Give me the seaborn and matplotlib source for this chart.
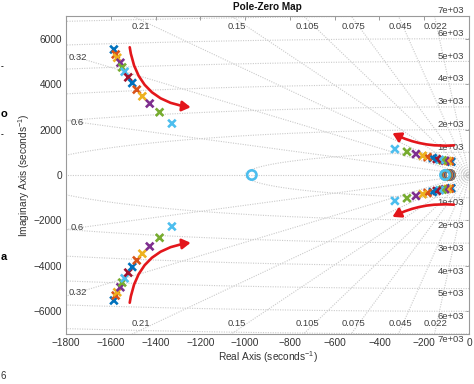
import numpy as np
import pandas as pd
import matplotlib
matplotlib.use("Agg")
import matplotlib.pyplot as plt
import seaborn as sns
from matplotlib.patches import FancyArrowPatch

# ---------------- data ----------------
system_ids = list(range(1, 14))
system_colors = ["#0072BD", "#D95319", "#EDB120", "#7E2F8E", "#77AC30", "#4DBEEE", "#A2142F",
                 "#0072BD", "#D95319", "#EDB120", "#7E2F8E", "#77AC30", "#4DBEEE"]
fast_pole_re = [-1586, -1578, -1571, -1557, -1549, -1538, -1522, -1504, -1484, -1459, -1426, -1382, -1327]
fast_pole_im = [5526, 5307, 5162, 4943, 4737, 4548, 4298, 4048, 3759, 3465, 3145, 2763, 2268]
slow_pole_re = [-79, -86, -95, -107, -118, -131, -144, -162, -185, -207, -237, -277, -331]
slow_pole_im = [583, 601, 614, 627, 645, 671, 702, 746, 789, 846, 921, 1022, 1140]
zero_re = [-85, -86, -87, -88, -90, -91, -93, -95, -97, -99, -101, -104, -107]
far_zero_re = [-970]
far_zero_system = [13]

damping_values = [0.022, 0.045, 0.075, 0.105, 0.15, 0.21, 0.32, 0.6]
top_damping_labels = ["0.022", "0.045", "0.075", "0.105", "0.15", "0.21"]
side_damping_labels = ["0.32", "0.6"]
natural_freqs = [1000, 2000, 3000, 4000, 5000, 6000, 7000]
wn_labels = ["1e+03", "2e+03", "3e+03", "4e+03", "5e+03", "6e+03", "7e+03"]

x_ticks = [-1800, -1600, -1400, -1200, -1000, -800, -600, -400, -200, 0]
y_ticks = [-6000, -4000, -2000, 0, 2000, 4000, 6000]

# trend arrows (start, end) in data units
arrow_starts = [(-1517, 5746), (-1517, -5746), (-55, 1316), (-55, -1316)]
arrow_ends = [(-1231, 2969), (-1231, -2969), (-353, 1899), (-353, -1899)]
arrow_rads = [0.4, -0.4, -0.15, 0.15]

# ---------------- frames ----------------
poles = pd.DataFrame({
    "re": fast_pole_re + fast_pole_re + slow_pole_re + slow_pole_re,
    "im": fast_pole_im + [-v for v in fast_pole_im] + slow_pole_im + [-v for v in slow_pole_im],
    "system": system_ids * 4,
})
zeros = pd.DataFrame({"re": zero_re + far_zero_re,
                      "im": [0] * (len(zero_re) + len(far_zero_re)),
                      "system": system_ids + far_zero_system})
palette = {s: c for s, c in zip(system_ids, system_colors)}

# ---------------- figure ----------------
sns.set_style("white")
plt.rcParams["font.family"] = ["Liberation Sans", "DejaVu Sans"]
plt.rcParams["mathtext.default"] = "regular"

fig = plt.figure(figsize=(4.74, 3.84), dpi=100)
ax = fig.add_axes([66 / 474, 50 / 384, 403 / 474, 318 / 384])

grid_kw = dict(color="#cacaca", linestyle=(0, (1, 1.2)), linewidth=0.8, zorder=1)
# damping rays
r = np.array([0, 20000])
for z in damping_values:
    s = np.sqrt(1 - z ** 2)
    ax.plot(-r * z, r * s, **grid_kw)
    ax.plot(-r * z, -r * s, **grid_kw)
ax.plot([-2000, 0], [0, 0], **grid_kw)
# natural-frequency circles
th = np.linspace(np.pi / 2, 3 * np.pi / 2, 600)
for wn in natural_freqs:
    ax.plot(wn * np.cos(th), wn * np.sin(th), **grid_kw)

lab_kw = dict(fontsize=6.8, color="#404040", zorder=2)
for z, t in zip(damping_values[:6], top_damping_labels):
    xl = -6830 * z / np.sqrt(1 - z ** 2)
    ax.text(xl, 6550, t, ha="center", va="center", **lab_kw)
    ax.text(xl, -6550, t, ha="center", va="center", **lab_kw)
for z, t in zip(damping_values[6:], side_damping_labels):
    yl = 1745 * np.sqrt(1 - z ** 2) / z
    ax.text(-1748, yl, t, ha="center", va="center", **lab_kw)
    ax.text(-1748, -yl, t, ha="center", va="center", **lab_kw)
for wn, t in zip(natural_freqs, wn_labels):
    ax.text(-22, wn + 230, t, ha="right", va="center", **lab_kw)
    ax.text(-22, -wn - 230, t, ha="right", va="center", **lab_kw)

# poles and zeros
sns.scatterplot(data=poles, x="re", y="im", hue="system", palette=palette, marker="x",
                s=30, linewidth=1.9, legend=False, ax=ax, zorder=4)
sns.scatterplot(data=zeros, x="re", y="im", hue="system", palette=palette, marker="o",
                s=45, facecolor="none", linewidth=1.9, legend=False, ax=ax, zorder=4)
# force hollow circles with coloured edges
coll = ax.collections[-1]
coll.set_edgecolors([palette[s] for s in zeros["system"]])
coll.set_facecolors("none")

for (a, b, rad) in zip(arrow_starts, arrow_ends, arrow_rads):
    ax.add_patch(FancyArrowPatch(a, b, connectionstyle=f"arc3,rad={rad}",
                                 arrowstyle="-|>,head_length=5,head_width=3",
                                 color="#E3161B", lw=1.9, zorder=5))

ax.set_xlim(-1800, 0)
ax.set_ylim(-7000, 7000)
ax.set_xticks(x_ticks)
ax.set_yticks(y_ticks)
ax.tick_params(direction="in", length=3, width=0.7, colors="#9a9a9a",
               labelcolor="#333333", labelsize=7.3, top=True, right=True, pad=3)
for sp in ax.spines.values():
    sp.set_color("#9a9a9a")
    sp.set_linewidth(0.8)
ax.set_xlabel("Real Axis (seconds$^{-1}$)", fontsize=7.3, color="#333333", labelpad=1)
ax.set_ylabel("Imaginary Axis (seconds$^{-1}$)", fontsize=7.3, color="#333333", labelpad=1)
ax.set_title("Pole-Zero Map", fontsize=7.2, fontweight="bold", color="#111111", pad=4)

# fragments of neighbouring page text visible at the left edge
frag_kw = dict(color="black", fontweight="bold", va="center", ha="left")
fig.text(0.001, 1 - 67 / 384, "-", fontsize=6, **frag_kw)
fig.text(0.001, 1 - 114 / 384, "o", fontsize=8, **frag_kw)
fig.text(0.001, 1 - 135 / 384, "-", fontsize=6, **frag_kw)
fig.text(0.001, 1 - 257 / 384, "a", fontsize=8, **frag_kw)
fig.text(0.001, 1 - 376 / 384, "6", fontsize=7, color="#333333", va="center", ha="left")

fig.savefig("out.png", dpi=100, facecolor="white")
